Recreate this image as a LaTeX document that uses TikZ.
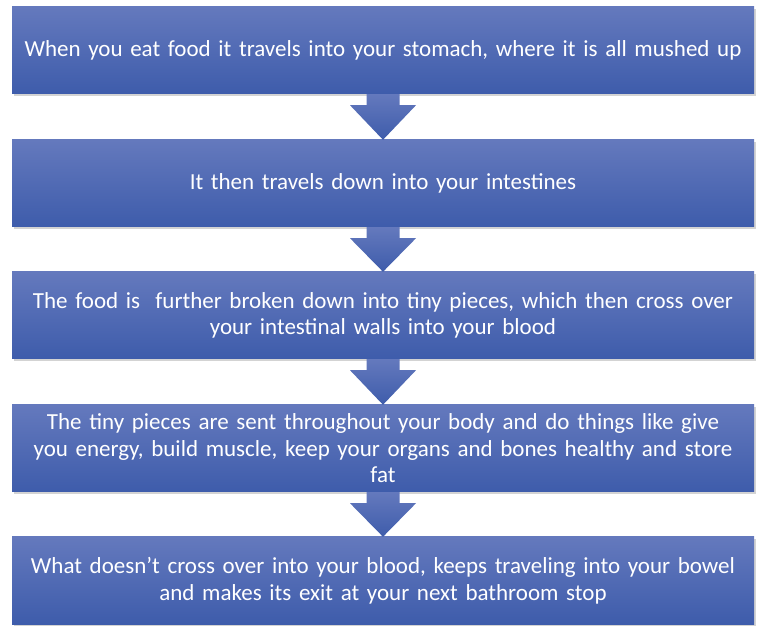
\documentclass[tikz,border=0pt]{standalone}
\usepackage{fontspec}
\setmainfont{Carlito}
\usetikzlibrary{shadows,calc}
\definecolor{stepTop}{RGB}{100,121,189}
\definecolor{stepBottom}{RGB}{62,92,171}

\begin{document}
\begin{tikzpicture}[x=1pt, y=1pt,
    stepbox/.style={rectangle, draw=none, minimum width=742pt, minimum height=87pt,
        top color=stepTop, bottom color=stepBottom, text=white,
        text width=730pt, align=center, font=\fontsize{23}{26.5}\selectfont,
        drop shadow={opacity=0.35, shadow xshift=2pt, shadow yshift=-2pt}},
    flowarrow/.style={draw=none, top color=stepTop, bottom color=stepBottom}]
        \useasboundingbox (0,0) rectangle (768,637);

        % Steps
        \node[stepbox] (s1) at (383,586.5) {When you eat food it travels into your stomach, where it is all mushed up};
        \node[stepbox] (s2) at (383,453.5) {It then travels down into your intestines};
        \node[stepbox] (s3) at (383,321.5) {The food is\ \ further broken down into tiny pieces, which then cross over\\ your intestinal walls into your blood};
        \node[stepbox] (s4) at (383,188.5) {The tiny pieces are sent throughout your body and do things like give\\ you energy, build muscle, keep your organs and bones healthy and store\\ fat};
        \node[stepbox] (s5) at (383,56.5) {What doesn’t cross over into your blood, keeps traveling into your bowel\\ and makes its exit at your next bathroom stop};

        % Arrows between steps
        \path[flowarrow] ($(s1.south)+(-16.5,0)$) -- ($(s1.south)+(-16.5,-11)$) -- ($(s1.south)+(-33,-11)$) -- (s2.north)
            -- ($(s1.south)+(33,-11)$) -- ($(s1.south)+(16.5,-11)$) -- ($(s1.south)+(16.5,0)$) -- cycle;
        \path[flowarrow] ($(s2.south)+(-16.5,0)$) -- ($(s2.south)+(-16.5,-11)$) -- ($(s2.south)+(-33,-11)$) -- (s3.north)
            -- ($(s2.south)+(33,-11)$) -- ($(s2.south)+(16.5,-11)$) -- ($(s2.south)+(16.5,0)$) -- cycle;
        \path[flowarrow] ($(s3.south)+(-16.5,0)$) -- ($(s3.south)+(-16.5,-11)$) -- ($(s3.south)+(-33,-11)$) -- (s4.north)
            -- ($(s3.south)+(33,-11)$) -- ($(s3.south)+(16.5,-11)$) -- ($(s3.south)+(16.5,0)$) -- cycle;
        \path[flowarrow] ($(s4.south)+(-16.5,0)$) -- ($(s4.south)+(-16.5,-11)$) -- ($(s4.south)+(-33,-11)$) -- (s5.north)
            -- ($(s4.south)+(33,-11)$) -- ($(s4.south)+(16.5,-11)$) -- ($(s4.south)+(16.5,0)$) -- cycle;
    \end{tikzpicture}
\end{document}
